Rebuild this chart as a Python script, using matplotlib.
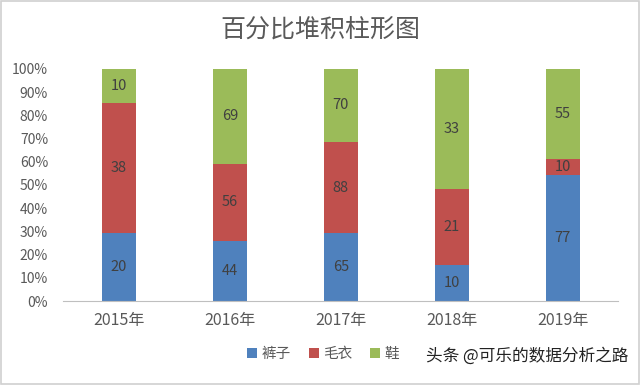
import numpy as np
import matplotlib.pyplot as plt
from matplotlib.patches import Rectangle

plt.rcParams['font.family'] = ['Noto Sans CJK SC', 'DejaVu Sans']

# data
years = ['2015年', '2016年', '2017年', '2018年', '2019年']
kuzi = [20, 44, 65, 10, 77]
maoyi = [38, 56, 88, 21, 10]
xie = [10, 69, 70, 33, 55]
names = ['裤子', '毛衣', '鞋']
colors = ['#4F81BD', '#C0504D', '#9BBB59']

series = np.array([kuzi, maoyi, xie], dtype=float)
totals = series.sum(axis=0)
pct = series / totals

fig = plt.figure(figsize=(6.4, 3.85), dpi=100)
ax = fig.add_axes([0.099, 0.218, 0.867, 0.603])

x = np.arange(len(years))
bottom = np.zeros(len(years))
for vals, p, name, c in zip(series, pct, names, colors):
    ax.bar(x, p, 0.31, bottom=bottom, color=c, label=name)
    for xi, b, h, v in zip(x, bottom, p, vals):
        ax.text(xi, b + h / 2, f'{int(v)}', ha='center', va='center',
                fontsize=10.5, color='#404040')
    bottom += p

ax.set_xlim(-0.5, len(years) - 0.5)
ax.set_ylim(0, 1)
ax.set_yticks(np.arange(0, 1.01, 0.1))
ax.set_yticklabels([f'{int(round(t * 100))}%' for t in np.arange(0, 1.01, 0.1)])
ax.set_xticks(x)
ax.set_xticklabels(years)
ax.tick_params(length=0, colors='#595959')
ax.tick_params(axis='x', pad=8, labelsize=11.5)
ax.tick_params(axis='y', pad=11, labelsize=10)
for s in ['top', 'right', 'left']:
    ax.spines[s].set_visible(False)
ax.spines['bottom'].set_color('#BFBFBF')

fig.text(0.5, 0.92, '百分比堆积柱形图', ha='center', va='center',
         fontsize=18, color='#595959')

leg = fig.legend(loc='center', bbox_to_anchor=(0.505, 0.08), ncol=3,
                 frameon=False, fontsize=10.5, handlelength=0.7,
                 handleheight=0.7, handletextpad=0.3, columnspacing=1.2)
for t in leg.get_texts():
    t.set_color('#595959')

fig.text(0.982, 0.075, '头条 @可乐的数据分析之路', ha='right', va='center',
         fontsize=12, color='#222222')

fig.patches.append(Rectangle((0.001, 0.002), 0.997, 0.996, transform=fig.transFigure,
                             fill=False, edgecolor='#D0D0D0', linewidth=1.2))

fig.savefig('out.png', dpi=100)
